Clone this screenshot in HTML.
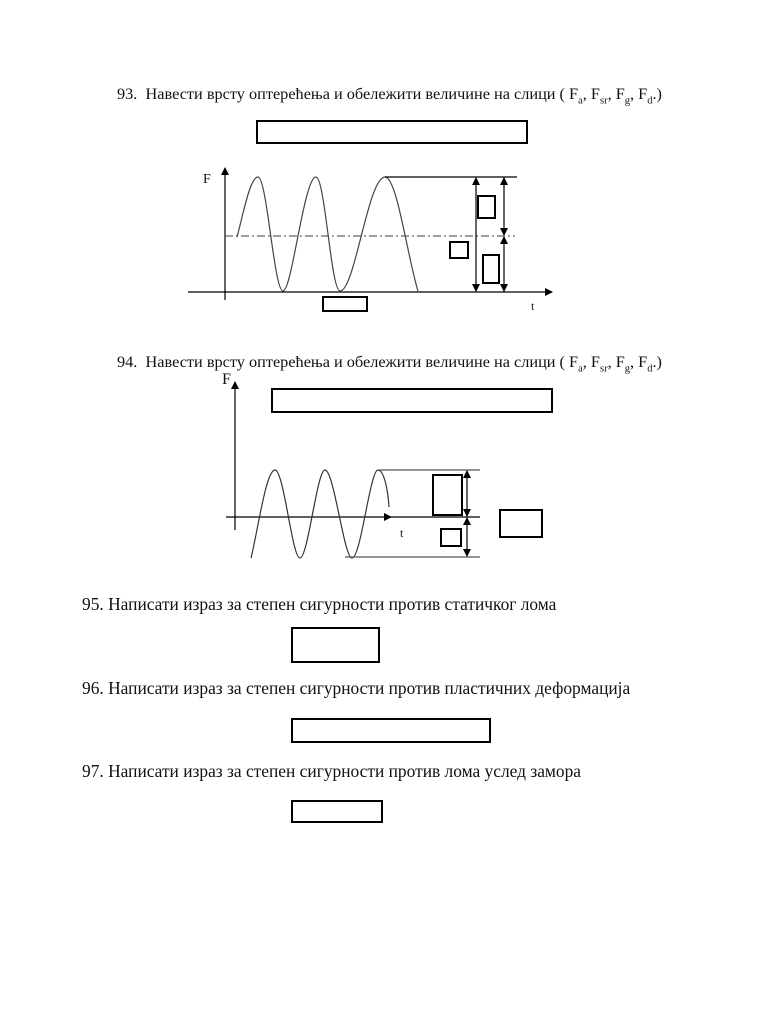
<!DOCTYPE html>
<html><head><meta charset="utf-8"><style>
body{margin:0;background:#fff;width:768px;height:1024px;position:relative;overflow:hidden;font-family:"Liberation Serif",serif;color:#111}
.t{position:absolute;font-size:17.4px;white-space:nowrap}
.h{font-size:16.3px}
sub{font-size:10.5px}
.b{position:absolute;border:2.5px solid #000;box-sizing:border-box}
svg{position:absolute;left:0;top:0}
</style></head><body>
<div class="t h" style="left:117px;top:84px">93.&nbsp; Навести врсту оптерећења и обележити величине на слици ( F<sub>a</sub>, F<sub>sr</sub>, F<sub>g</sub>, F<sub>d</sub>.)</div>
<div class="t h" style="left:117px;top:352px">94.&nbsp; Навести врсту оптерећења и обележити величине на слици ( F<sub>a</sub>, F<sub>sr</sub>, F<sub>g</sub>, F<sub>d</sub>.)</div>
<div class="t" style="left:82px;top:594px">95. Написати израз за степен сигурности против статичког лома</div>
<div class="t" style="left:82px;top:678px">96. Написати израз за степен сигурности против пластичних деформација</div>
<div class="t" style="left:82px;top:761px">97. Написати израз за степен сигурности против лома услед замора</div>
<div class="t" style="left:203px;top:172px;font-size:14px">F</div>
<div class="t" style="left:531px;top:299px;font-size:12px">t</div>
<div class="t" style="left:222px;top:371px;font-size:16px">F</div>
<div class="t" style="left:400px;top:526px;font-size:12px">t</div>
<svg width="768" height="1024" fill="none" stroke="#000" stroke-width="1.2">
<defs><marker id="a" markerWidth="8" markerHeight="8" refX="7" refY="4" orient="auto-start-reverse" markerUnits="userSpaceOnUse"><path d="M0,0L8,4L0,8z" fill="#000" stroke="none"/></marker></defs>
<line x1="225" y1="300" x2="225" y2="168" marker-end="url(#a)"/>
<line x1="188" y1="292" x2="552" y2="292" marker-end="url(#a)"/>
<line x1="225" y1="236" x2="515" y2="236" stroke="#666" stroke-dasharray="8,3,2,3"/>
<path d="M237,237 C243,215 250,177 258,177 C267,177 274,291 283,291 C292,291 304,177 316,177 C325,177 331,291 340,291 C355,291 368,177 385,177 C397,177 407,255 418,291" stroke="#444"/>
<line x1="385" y1="177" x2="517" y2="177"/>
<line x1="476" y1="178" x2="476" y2="291" marker-start="url(#a)" marker-end="url(#a)"/>
<line x1="504" y1="178" x2="504" y2="235" marker-start="url(#a)" marker-end="url(#a)"/>
<line x1="504" y1="237" x2="504" y2="291" marker-start="url(#a)" marker-end="url(#a)"/>
<line x1="235" y1="530" x2="235" y2="382" marker-end="url(#a)"/>
<line x1="226" y1="517" x2="391" y2="517" marker-end="url(#a)"/>
<line x1="391" y1="517" x2="480" y2="517"/>
<path d="M251,558 C258,530 266,470 275,470 C284,470 292,558 300,558 C308,558 317,470 325,470 C334,470 344,558 352,558 C361,558 370,470 378,470 C384,470 388,490 389,507" stroke="#333"/>
<line x1="378" y1="470" x2="480" y2="470" stroke="#555"/>
<line x1="345" y1="557" x2="480" y2="557" stroke="#555"/>
<line x1="467" y1="471" x2="467" y2="516" marker-start="url(#a)" marker-end="url(#a)"/>
<line x1="467" y1="518" x2="467" y2="556" marker-start="url(#a)" marker-end="url(#a)"/>
</svg>
<div class="b" style="left:256px;top:120px;width:272px;height:24px"></div>
<div class="b" style="left:477px;top:195px;width:19px;height:24px"></div>
<div class="b" style="left:449px;top:241px;width:20px;height:18px"></div>
<div class="b" style="left:482px;top:254px;width:18px;height:30px"></div>
<div class="b" style="left:322px;top:296px;width:46px;height:16px"></div>
<div class="b" style="left:271px;top:388px;width:282px;height:25px"></div>
<div class="b" style="left:432px;top:474px;width:31px;height:42px"></div>
<div class="b" style="left:440px;top:528px;width:22px;height:19px"></div>
<div class="b" style="left:499px;top:509px;width:44px;height:29px"></div>
<div class="b" style="left:291px;top:627px;width:89px;height:36px"></div>
<div class="b" style="left:291px;top:718px;width:200px;height:25px"></div>
<div class="b" style="left:291px;top:800px;width:92px;height:23px"></div>
</body></html>
